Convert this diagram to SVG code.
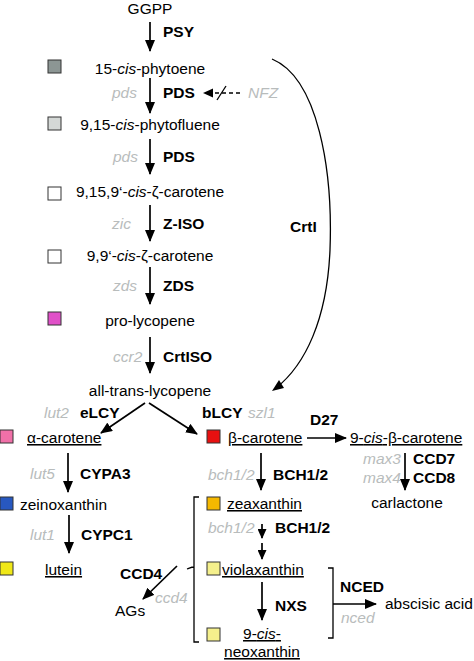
<svg xmlns="http://www.w3.org/2000/svg" width="474" height="661" viewBox="0 0 474 661">
<defs>
<marker id="ah" markerUnits="userSpaceOnUse" markerWidth="12" markerHeight="10" refX="11" refY="5" orient="auto">
<path d="M0,0 L12,5 L0,10 z" fill="#000"/>
</marker>
<marker id="ahs" markerUnits="userSpaceOnUse" markerWidth="10" markerHeight="9" refX="9" refY="4.5" orient="auto">
<path d="M0,0 L10,4.5 L0,9 z" fill="#000"/>
</marker>
<style>
text{font-family:"Liberation Sans",Arial,sans-serif;font-size:15.5px;fill:#000}
.c{text-anchor:middle}
.b{font-weight:bold}
.g{font-style:italic;fill:#b8bcbc}
.u{text-decoration:underline}
.sq{stroke:#333;stroke-width:1}
.ar{stroke:#000;stroke-width:1.7;fill:none;marker-end:url(#ah)}
.ars{stroke:#000;stroke-width:1.7;fill:none;marker-end:url(#ahs)}
.ln{stroke:#000;stroke-width:1.3;fill:none}
</style>
</defs>
<rect width="474" height="661" fill="#fff"/>

<g id="connectors">
<line class="ar" x1="150" y1="22" x2="150" y2="51"/>
<line class="ar" x1="150" y1="78" x2="150" y2="113"/>
<line class="ar" x1="150" y1="139" x2="150" y2="174"/>
<line class="ar" x1="150" y1="205" x2="150" y2="241"/>
<line class="ar" x1="150" y1="267" x2="150" y2="304"/>
<line class="ar" x1="150" y1="337" x2="150" y2="373"/>
<line stroke="#000" stroke-width="1.3" stroke-dasharray="4,3" x1="240" y1="93" x2="212" y2="93"/>
<path d="M203,93 L213,88.5 L213,97.5 z" fill="#000"/>
<line class="ln" x1="217" y1="100" x2="226" y2="86"/>
<path class="ln" d="M272,59 C318,78 333,170 330,250 C327,320 305,365 276,388"/>
<path d="M272,391 L279,380 L284,388 z" fill="#000"/>
<line class="ar" x1="145" y1="403" x2="101" y2="433"/>
<line class="ar" x1="149" y1="403" x2="197" y2="434"/>
<line class="ar" x1="307" y1="438" x2="346" y2="438"/>
<line class="ar" x1="405" y1="453" x2="405" y2="490"/>
<line class="ar" x1="68" y1="453" x2="68" y2="492"/>
<line class="ar" x1="69" y1="515" x2="69" y2="553"/>
<line class="ar" x1="261" y1="453" x2="261" y2="490"/>
<line class="ars" x1="262" y1="524" x2="262" y2="538"/>
<line class="ars" x1="262" y1="543" x2="262" y2="559"/>
<line class="ar" x1="262" y1="582" x2="262" y2="620"/>
<path class="ln" d="M199,497 L194,497 L194,642 L199,642 M194,567 C191,567 190,568 187,569"/>
<path class="ln" d="M328,568 L333,568 L333,638 L328,638"/>
<line class="ar" x1="333" y1="604" x2="376" y2="604"/>
<line class="ar" x1="177" y1="566" x2="143" y2="599"/>
</g>

<g id="ggpp"><text class="c" x="150" y="14">GGPP</text></g>
<g id="psy"><text class="b" x="163" y="37">PSY</text></g>

<g id="phytoene">
<rect class="sq" x="48" y="60" width="13" height="13" fill="#8c9694"/>
<text class="c" x="150" y="74">15-<tspan font-style="italic">cis</tspan>-phytoene</text>
</g>
<g id="pds1">
<text class="g" x="112" y="98">pds</text>
<text class="b" x="163" y="98">PDS</text>
<text class="g" x="248" y="98">NFZ</text>
</g>

<g id="phytofluene">
<rect class="sq" x="48" y="117" width="13" height="13" fill="#d4d8d6"/>
<text class="c" x="150" y="130">9,15-<tspan font-style="italic">cis</tspan>-phytofluene</text>
</g>
<g id="pds2">
<text class="g" x="113" y="162">pds</text>
<text class="b" x="163" y="162">PDS</text>
</g>

<g id="zcarotene1">
<rect class="sq" x="48" y="187" width="13" height="13" fill="#fff"/>
<text class="c" x="150" y="197">9,15,9‘-<tspan font-style="italic">cis</tspan>-ζ-carotene</text>
</g>
<g id="ziso">
<text class="g" x="112" y="229">zic</text>
<text class="b" x="163" y="229">Z-ISO</text>
</g>

<g id="zcarotene2">
<rect class="sq" x="48" y="250" width="13" height="13" fill="#fff"/>
<text class="c" x="150" y="261">9,9‘-<tspan font-style="italic">cis</tspan>-ζ-carotene</text>
</g>
<g id="zds">
<text class="g" x="113" y="291">zds</text>
<text class="b" x="163" y="291">ZDS</text>
</g>

<g id="prolycopene">
<rect class="sq" x="48" y="312" width="13" height="13" fill="#e050c8"/>
<text class="c" x="150" y="326">pro-lycopene</text>
</g>
<g id="crtiso">
<text class="g" x="113" y="362">ccr2</text>
<text class="b" x="163" y="362">CrtISO</text>
</g>

<g id="crti"><text class="b" x="290" y="232">CrtI</text></g>

<g id="lycopene"><text class="c" x="150" y="396">all-trans-lycopene</text></g>

<g id="elcy">
<text class="g" x="44" y="418">lut2</text>
<text class="b" x="80" y="418">eLCY</text>
</g>
<g id="blcy">
<text class="b" x="202" y="418">bLCY</text>
<text class="g" x="248" y="418">szl1</text>
</g>

<g id="acarotene">
<rect class="sq" x="0" y="430" width="13" height="13" fill="#f070a8"/>
<text class="u" x="27" y="443">α-carotene</text>
</g>
<g id="bcarotene">
<rect class="sq" x="207" y="430" width="13" height="13" fill="#e81010"/>
<text class="u" x="228" y="443">β-carotene</text>
</g>
<g id="d27"><text class="b" x="310" y="425">D27</text></g>
<g id="cisbcarotene">
<text class="u" x="350" y="443">9-<tspan font-style="italic">cis</tspan>-β-carotene</text>
</g>
<g id="ccd78">
<text class="g" x="363" y="464">max3</text>
<text class="b" x="413" y="464">CCD7</text>
<text class="g" x="363" y="483">max4</text>
<text class="b" x="413" y="483">CCD8</text>
</g>
<g id="carlactone"><text class="c" x="407" y="508">carlactone</text></g>

<g id="cypa3">
<text class="g" x="30" y="479">lut5</text>
<text class="b" x="80" y="479">CYPA3</text>
</g>
<g id="zeinoxanthin">
<rect class="sq" x="0" y="497" width="13" height="13" fill="#2858c0"/>
<text x="20" y="510">zeinoxanthin</text>
</g>
<g id="cypc1">
<text class="g" x="30" y="540">lut1</text>
<text class="b" x="81" y="540">CYPC1</text>
</g>
<g id="lutein">
<rect class="sq" x="0" y="562" width="13" height="13" fill="#f0e818"/>
<text class="u" x="45" y="575">lutein</text>
</g>

<g id="bch1">
<text class="g" x="208" y="480">bch1/2</text>
<text class="b" x="273" y="480">BCH1/2</text>
</g>
<g id="zeaxanthin">
<rect class="sq" x="207" y="497" width="13" height="13" fill="#f5b800"/>
<text class="u" x="227" y="509">zeaxanthin</text>
</g>
<g id="bch2">
<text class="g" x="208" y="533">bch1/2</text>
<text class="b" x="275" y="533">BCH1/2</text>
</g>
<g id="violaxanthin">
<rect class="sq" x="207" y="562" width="13" height="13" fill="#f5f08c"/>
<text class="u" x="222" y="575">violaxanthin</text>
</g>
<g id="nxs"><text class="b" x="275" y="611">NXS</text></g>
<g id="neoxanthin">
<rect class="sq" x="207" y="628" width="13" height="13" fill="#f5f08c"/>
<text class="u c" x="262" y="639">9-<tspan font-style="italic">cis</tspan>-</text>
<text class="u c" x="262" y="657">neoxanthin</text>
</g>
<g id="nced">
<text class="b" x="340" y="592">NCED</text>
<text class="g" x="341" y="623">nced</text>
</g>
<g id="aba"><text x="385" y="609">abscisic acid</text></g>
<g id="ccd4">
<text class="b" x="120" y="579">CCD4</text>
<text class="g" x="155" y="603">ccd4</text>
</g>
<g id="ags"><text x="115" y="616">AGs</text></g>
</svg>
